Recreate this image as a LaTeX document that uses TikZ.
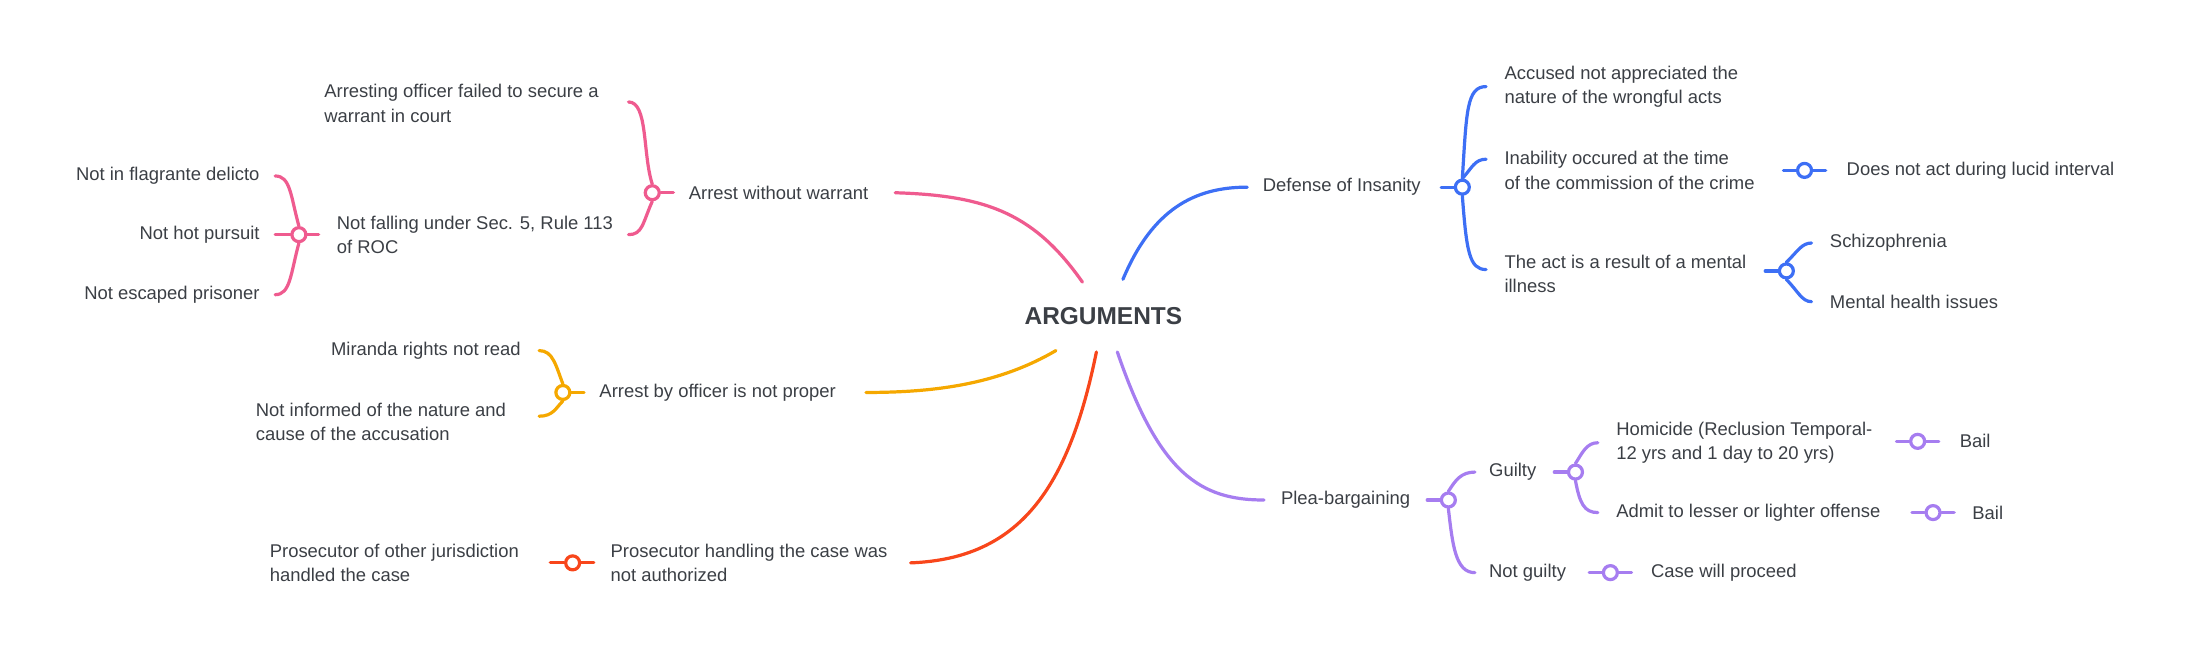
\documentclass[tikz,border=0pt]{standalone}
\usepackage{fontspec}
\setmainfont{Liberation Sans}
\definecolor{cpink}{HTML}{EF5B8F}
\definecolor{corange}{HTML}{F5A800}
\definecolor{cred}{HTML}{F8461B}
\definecolor{cblue}{HTML}{3D6FF5}
\definecolor{cpurple}{HTML}{A67DF0}
\definecolor{ctext}{HTML}{3B3F45}
\begin{document}
\begin{tikzpicture}[x=1pt,y=-1pt,
  lbl/.style={inner sep=0pt,text=ctext,font=\fontsize{13.2}{17.5}\selectfont,align=left},
  lw/.style={lbl,anchor=west},
  le/.style={lbl,anchor=east},
  hub/.style={circle,draw=#1,fill=white,line width=2.3pt,minimum size=10pt,inner sep=0pt},
  br/.style={draw=#1,line width=2.3pt,line cap=round}]
\useasboundingbox (0,0) rectangle (1568,465);
\node[inner sep=0pt,text=ctext,font=\fontsize{17.5}{20}\selectfont\bfseries] (root) at (790,226) {ARGUMENTS};
% ---------- pink
\node[lw] (aww) at (493,138) {Arrest without warrant};
\node[hub=cpink] (h1) at (467,138) {};
\node[lw] (afs) at (232,74) {Arresting officer failed to secure a\\warrant in court};
\node[lw] (nfu) at (241,168) {Not falling under Sec. 5, Rule 113\\of ROC};
\node[hub=cpink] (h2) at (214,168) {};
\node[le] (nfd) at (186,126) {Not in flagrante delicto};
\node[le] (nhp) at (186,168) {Not hot pursuit};
\node[le] (nep) at (186,211) {Not escaped prisoner};
\coordinate (p0) at (775,202); \coordinate (p1) at (641,138);
\draw[br=cpink] (p0) .. controls (740,152) and (705,140) .. (p1);
\draw[br=cpink] (h1.east) -- ++(9,0);
\coordinate (a1) at (450,73); \coordinate (a2) at (450,168);
\draw[br=cpink] (h1.north) .. controls (460,110) and (464,73) .. (a1);
\draw[br=cpink] (h1.south) .. controls (460,160) and (460,168) .. (a2);
\coordinate (b1) at (197,126); \coordinate (b3) at (197,211);
\draw[br=cpink] (h2.west) -- (197,168);
\draw[br=cpink] (h2.east) -- ++(8,0);
\draw[br=cpink] (h2.north) .. controls (208,140) and (208,126) .. (b1);
\draw[br=cpink] (h2.south) .. controls (208,196) and (208,211) .. (b3);
% ---------- orange
\node[lw] (abo) at (429,281) {Arrest by officer is not proper};
\node[hub=corange] (h3) at (403,281) {};
\node[le] (mrn) at (373,251) {Miranda rights not read};
\node[lw] (nin) at (183,302) {Not informed of the nature and\\cause of the accusation};
\coordinate (o0) at (756,251); \coordinate (o1) at (620,281);
\draw[br=corange] (o0) .. controls (715,275) and (670,281) .. (o1);
\draw[br=corange] (h3.east) -- ++(9,0);
\coordinate (c1) at (386,251); \coordinate (c2) at (386,298);
\draw[br=corange] (h3.north) .. controls (398,262) and (396,251) .. (c1);
\draw[br=corange] (h3.south) .. controls (398,292) and (396,298) .. (c2);
% ---------- red
\node[lw] (phc) at (437,403) {Prosecutor handling the case was\\not authorized};
\node[hub=cred] (h4) at (410,403) {};
\node[lw] (poj) at (193,403) {Prosecutor of other jurisdiction\\handled the case};
\coordinate (r0) at (785,252); \coordinate (r1) at (652,403);
\draw[br=cred] (r0) .. controls (765,350) and (730,400) .. (r1);
\draw[br=cred] (h4.east) -- ++(9,0);
\draw[br=cred] (h4.west) -- (394,403);
% ---------- blue
\node[lw] (doi) at (904,134) {Defense of Insanity};
\node[hub=cblue] (h5) at (1047,134) {};
\node[lw] (anp) at (1077,62) {Accused not appreciated the\\nature of the wrongful acts};
\node[lw] (ioc) at (1077,122) {Inability occured at the time\\of the commission of the crime};
\node[lw] (tai) at (1077,196) {The act is a result of a mental\\illness};
\node[hub=cblue] (h6) at (1292,122) {};
\node[lw] (dna) at (1322,122) {Does not act during lucid interval};
\node[hub=cblue] (h7) at (1279,194) {};
\node[lw] (sch) at (1310,174) {Schizophrenia};
\node[lw] (mhi) at (1310,216) {Mental health issues};
\coordinate (u0) at (804,200); \coordinate (u1) at (893,134);
\draw[br=cblue] (u0) .. controls (825,150) and (855,134) .. (u1);
\draw[br=cblue] (h5.west) -- ++(-9,0);
\coordinate (d1) at (1064,62); \coordinate (d2) at (1064,114); \coordinate (d3) at (1064,193);
\draw[br=cblue] (h5.north) .. controls (1050,80) and (1050,62) .. (d1);
\draw[br=cblue] (h5.north) .. controls (1054,120) and (1056,114) .. (d2);
\draw[br=cblue] (h5.south) .. controls (1050,180) and (1052,193) .. (d3);
\draw[br=cblue] (h6.west) -- ++(-9,0); \draw[br=cblue] (h6.east) -- ++(9,0);
\draw[br=cblue] (h7.west) -- ++(-9,0);
\coordinate (e1) at (1297,174); \coordinate (e2) at (1297,216);
\draw[br=cblue] (h7.north) .. controls (1287,180) and (1290,174) .. (e1);
\draw[br=cblue] (h7.south) .. controls (1287,208) and (1290,216) .. (e2);
% ---------- purple
\node[lw] (pb) at (917,358) {Plea-bargaining};
\node[hub=cpurple] (h8) at (1037,358) {};
\node[lw] (gty) at (1066,338) {Guilty};
\node[lw] (ngt) at (1066,410) {Not guilty};
\node[hub=cpurple] (h9) at (1128,338) {};
\node[lw] (hom) at (1157,317) {Homicide (Reclusion Temporal-\\12 yrs and 1 day to 20 yrs)};
\node[lw] (adm) at (1157,367) {Admit to lesser or lighter offense};
\node[hub=cpurple] (h10) at (1373,316) {};
\node[lw] (bl1) at (1403,316) {Bail};
\node[hub=cpurple] (h11) at (1384,367) {};
\node[lw] (bl2) at (1412,367) {Bail};
\node[hub=cpurple] (h12) at (1153,410) {};
\node[lw] (cwp) at (1182,410) {Case will proceed};
\coordinate (v0) at (800,252); \coordinate (v1) at (905,358);
\draw[br=cpurple] (v0) .. controls (830,340) and (860,358) .. (v1);
\draw[br=cpurple] (h8.west) -- ++(-9,0);
\coordinate (f1) at (1056,338); \coordinate (f2) at (1056,410);
\draw[br=cpurple] (h8.north) .. controls (1042,344) and (1046,338) .. (f1);
\draw[br=cpurple] (h8.south) .. controls (1040,390) and (1042,410) .. (f2);
\draw[br=cpurple] (h9.west) -- ++(-9,0);
\coordinate (g1) at (1144,317); \coordinate (g2) at (1144,367);
\draw[br=cpurple] (h9.north) .. controls (1133,324) and (1136,317) .. (g1);
\draw[br=cpurple] (h9.south) .. controls (1131,360) and (1134,367) .. (g2);
\foreach \h in {h10,h11,h12}{\draw[br=cpurple] (\h.west) -- ++(-9,0); \draw[br=cpurple] (\h.east) -- ++(9,0);}
\end{tikzpicture}
\end{document}
